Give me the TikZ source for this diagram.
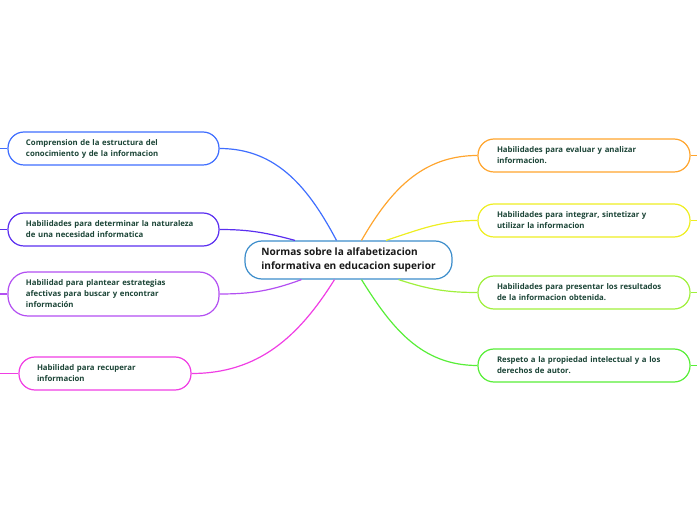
\documentclass[tikz,border=0pt]{standalone}
\usepackage{fontspec}
\setmainfont{Open Sans}
\definecolor{txtgreen}{HTML}{1C4537}
\definecolor{mainblue}{HTML}{3C8DCB}
\definecolor{cblue}{HTML}{3F6EFF}
\definecolor{cindigo}{HTML}{5B2FF0}
\definecolor{cviolet}{HTML}{B34FF2}
\definecolor{cmagenta}{HTML}{F03EE4}
\definecolor{corange}{HTML}{FFA52E}
\definecolor{cyellow}{HTML}{EEEE22}
\definecolor{clime}{HTML}{A0F03C}
\definecolor{cgreen}{HTML}{58EE38}

\begin{document}
\begin{tikzpicture}[x=1pt, y=1pt, line width=1.2pt,
  topic/.style={draw=mainblue, fill=white, rounded corners=17pt, align=left, minimum width=207pt,
    minimum height=38pt, font=\fontsize{10.1}{14}\selectfont\bfseries, text=black!90},
  branch/.style={draw=#1, fill=white, rounded corners=16pt, align=left, text width=175pt,
    inner xsep=18pt, minimum height=33pt, font=\fontsize{7.8}{11}\selectfont\bfseries, text=txtgreen},
  link/.style={draw=#1}]

\useasboundingbox (0,0) rectangle (697,520);
\coordinate (leftedge) at (0,0);
\coordinate (rightedge) at (697,0);

\node[topic] (normas) at (348.5,260) {Normas sobre la alfabetizacion\\informativa en educacion superior};

\node[branch=cblue] (compren) at (113.5,371.5) {Comprension de la estructura del\\conocimiento y de la informacion};
\node[branch=cindigo] (necesidad) at (113.5,290.5) {Habilidades para determinar la naturaleza\\de una necesidad informatica};
\node[branch=cviolet, minimum height=44pt, rounded corners=20pt] (afectivas) at (113.5,226) {Habilidad para plantear estrategias\\afectivas para buscar y encontrar\\información};
\node[branch=cmagenta, text width=136pt] (recuperar) at (105,146.5) {Habilidad para recuperar\\informacion};

\node[branch=corange, text width=174pt, inner xsep=19pt] (evaluar) at (584,364.5) {Habilidades para evaluar y analizar\\informacion.};
\node[branch=cyellow, text width=174pt, inner xsep=19pt] (integrar) at (584,299.5) {Habilidades para integrar, sintetizar y\\utilizar la informacion};
\node[branch=clime, text width=174pt, inner xsep=19pt] (presentar) at (584,227.5) {Habilidades para presentar los resultados\\de la informacion obtenida.};
\node[branch=cgreen, text width=174pt, inner xsep=19pt] (respeto) at (584,154.5) {Respeto a la propiedad intelectual y a los\\derechos de autor.};

\draw[link=cblue] (compren.east) to[out=0, in=118] ([xshift=-12pt]normas.north);
\draw[link=cindigo] (necesidad.east) to[out=0, in=165] ([xshift=-53.5pt]normas.north);
\draw[link=cviolet] (afectivas.east) to[out=0, in=200] ([xshift=-47pt]normas.south);
\draw[link=cmagenta] (recuperar.east) to[out=0, in=238] ([xshift=-14pt]normas.south);
\draw[link=corange] (evaluar.west) to[out=180, in=60] ([xshift=13pt]normas.north);
\draw[link=cyellow] (integrar.west) to[out=180, in=18] ([xshift=37.5pt]normas.north);
\draw[link=clime] (presentar.west) to[out=180, in=-18] ([xshift=50pt]normas.south);
\draw[link=cgreen] (respeto.west) to[out=180, in=-58] ([xshift=13pt]normas.south);

\foreach \n/\c in {compren/cblue, necesidad/cindigo, afectivas/cviolet, recuperar/cmagenta}
  \draw[link=\c] (\n.west) -- (\n.west -| leftedge);
\foreach \n/\c in {evaluar/corange, integrar/cyellow, presentar/clime, respeto/cgreen}
  \draw[link=\c] (\n.east) -- (\n.east -| rightedge);
\end{tikzpicture}
\end{document}
